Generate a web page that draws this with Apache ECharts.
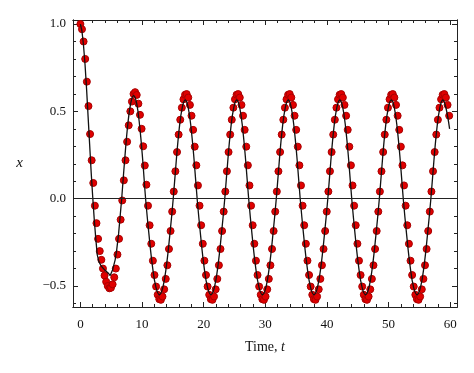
<!DOCTYPE html>
<html><head><meta charset="utf-8">
<script src="https://cdn.jsdelivr.net/npm/echarts@6/dist/echarts.min.js"></script>
<style>html,body{margin:0;padding:0;background:#fff}#c{width:474px;height:373px}</style>
</head><body><div id="c"></div>
<script>
// ---- data ----
const dotT = [0,0.26,0.52,0.78,1.05,1.31,1.57,1.83,2.09,2.35,2.61,2.87,3.14,3.40,3.66,3.92,4.18,4.44,4.70,4.96,5.23,5.49,5.75,6.01,6.27,6.53,6.79,7.05,7.32,7.58,7.84,8.10,8.36,8.62,8.88,9.14,9.41,9.67,9.93,10.19,10.45,10.71,10.97,11.23,11.50,11.76,12.02,12.28,12.54,12.80,13.06,13.32,13.59,13.85,14.11,14.37,14.63,14.89,15.15,15.41,15.68,15.94,16.20,16.46,16.72,16.98,17.24,17.50,17.77,18.03,18.29,18.55,18.81,19.07,19.33,19.59,19.86,20.12,20.38,20.64,20.90,21.16,21.42,21.68,21.95,22.21,22.47,22.73,22.99,23.25,23.51,23.77,24.04,24.30,24.56,24.82,25.08,25.34,25.60,25.86,26.13,26.39,26.65,26.91,27.17,27.43,27.69,27.95,28.22,28.48,28.74,29.00,29.26,29.52,29.78,30.04,30.31,30.57,30.83,31.09,31.35,31.61,31.87,32.13,32.40,32.66,32.92,33.18,33.44,33.70,33.96,34.22,34.49,34.75,35.01,35.27,35.53,35.79,36.05,36.31,36.58,36.84,37.10,37.36,37.62,37.88,38.14,38.40,38.67,38.93,39.19,39.45,39.71,39.97,40.23,40.49,40.76,41.02,41.28,41.54,41.80,42.06,42.32,42.58,42.85,43.11,43.37,43.63,43.89,44.15,44.41,44.67,44.94,45.20,45.46,45.72,45.98,46.24,46.50,46.76,47.03,47.29,47.55,47.81,48.07,48.33,48.59,48.85,49.12,49.38,49.64,49.90,50.16,50.42,50.68,50.94,51.21,51.47,51.73,51.99,52.25,52.51,52.77,53.03,53.30,53.56,53.82,54.08,54.34,54.60,54.86,55.12,55.39,55.65,55.91,56.17,56.43,56.69,56.95,57.21,57.48,57.74,58.00,58.26,58.52,58.78,59.04,59.30,59.57,59.83];
const dotX = [1.00,0.97,0.90,0.80,0.67,0.53,0.37,0.22,0.09,-0.04,-0.14,-0.23,-0.30,-0.35,-0.40,-0.44,-0.475,-0.50,-0.513,-0.51,-0.49,-0.45,-0.40,-0.32,-0.23,-0.12,-0.01,0.105,0.22,0.326,0.42,0.50,0.556,0.60,0.61,0.594,0.544,0.48,0.40,0.30,0.19,0.08,
-0.040,-0.152,-0.258,-0.355,-0.437,-0.503,-0.550,-0.575,-0.579,-0.560,-0.519,-0.459,-0.381,-0.288,-0.185,-0.074,
0.041,0.157,0.267,0.367,0.452,0.521,0.569,0.595,0.599,0.579,0.537,0.475,0.394,0.298,0.191,0.076,
-0.040,-0.152,-0.258,-0.355,-0.437,-0.503,-0.550,-0.575,-0.579,-0.560,-0.519,-0.459,-0.381,-0.288,-0.185,-0.074,
0.041,0.157,0.267,0.367,0.452,0.521,0.569,0.595,0.599,0.579,0.537,0.475,0.394,0.298,0.191,0.076,
-0.040,-0.152,-0.258,-0.355,-0.437,-0.503,-0.550,-0.575,-0.579,-0.560,-0.519,-0.459,-0.381,-0.288,-0.185,-0.074,
0.041,0.157,0.267,0.367,0.452,0.521,0.569,0.595,0.599,0.579,0.537,0.475,0.394,0.298,0.191,0.076,
-0.040,-0.152,-0.258,-0.355,-0.437,-0.503,-0.550,-0.575,-0.579,-0.560,-0.519,-0.459,-0.381,-0.288,-0.185,-0.074,
0.041,0.157,0.267,0.367,0.452,0.521,0.569,0.595,0.599,0.579,0.537,0.475,0.394,0.298,0.191,0.076,
-0.040,-0.152,-0.258,-0.355,-0.437,-0.503,-0.550,-0.575,-0.579,-0.560,-0.519,-0.459,-0.381,-0.288,-0.185,-0.074,
0.041,0.157,0.267,0.367,0.452,0.521,0.569,0.595,0.599,0.579,0.537,0.475,0.394,0.298,0.191,0.076,
-0.040,-0.152,-0.258,-0.355,-0.437,-0.503,-0.550,-0.575,-0.579,-0.560,-0.519,-0.459,-0.381,-0.288,-0.185,-0.074,
0.041,0.157,0.267,0.367,0.452,0.521,0.569,0.595,0.599,0.579,0.537,0.475];

// fitted curve, transient part (drawn straight)
const curveAT = [0,0.25,0.5,0.75,1.0,1.25,1.5,1.75,2.0,2.25,2.5,2.73,3.0,3.37,4.0,4.5,4.83,5.2,5.64,5.9,6.2,6.45,6.7];
const curveAX = [1.0,0.96,0.88,0.77,0.63,0.47,0.31,0.15,0.01,-0.12,-0.23,-0.32,-0.36,-0.385,-0.41,-0.425,-0.44,-0.41,-0.35,-0.29,-0.20,-0.10,0.0];
// fitted curve, steady oscillation (smoothed)
const curveBT = [6.70,7.19,7.67,8.16,8.64,9.13,9.61,10.10,
10.58,11.14,11.70,12.26,12.82,13.38,13.94,14.50,
15.06,15.55,16.03,16.52,17.00,17.49,17.97,18.46,
18.94,19.50,20.06,20.62,21.18,21.74,22.30,22.86,
23.42,23.91,24.39,24.88,25.36,25.85,26.33,26.82,
27.30,27.86,28.42,28.98,29.54,30.10,30.66,31.22,
31.78,32.27,32.75,33.24,33.72,34.21,34.69,35.18,
35.66,36.22,36.78,37.34,37.90,38.46,39.02,39.58,
40.14,40.63,41.11,41.60,42.08,42.57,43.05,43.54,
44.02,44.58,45.14,45.70,46.26,46.82,47.38,47.94,
48.50,48.99,49.47,49.96,50.44,50.93,51.41,51.90,
52.38,52.94,53.50,54.06,54.62,55.18,55.74,56.30,
56.86,57.35,57.83,58.32,58.80,59.29,59.90];
const curveBX = [0,0.226,0.418,0.545,0.59,0.545,0.418,0.226,
0,-0.210,-0.389,-0.508,-0.55,-0.508,-0.389,-0.210,
0,0.216,0.400,0.522,0.565,0.522,0.400,0.216,
0,-0.210,-0.389,-0.508,-0.55,-0.508,-0.389,-0.210,
0,0.216,0.400,0.522,0.565,0.522,0.400,0.216,
0,-0.210,-0.389,-0.508,-0.55,-0.508,-0.389,-0.210,
0,0.216,0.400,0.522,0.565,0.522,0.400,0.216,
0,-0.210,-0.389,-0.508,-0.55,-0.508,-0.389,-0.210,
0,0.216,0.400,0.522,0.565,0.522,0.400,0.216,
0,-0.210,-0.389,-0.508,-0.55,-0.508,-0.389,-0.210,
0,0.216,0.400,0.522,0.565,0.522,0.400,0.216,
0,-0.210,-0.389,-0.508,-0.55,-0.508,-0.389,-0.210,
0,0.216,0.400,0.522,0.565,0.522,0.40];

const xMajorTicks = [0,10,20,30,40,50,60];
const xMinorTicks = [2,4,6,8,12,14,16,18,22,24,26,28,32,34,36,38,42,44,46,48,52,54,56,58];
const yMajorTicks = [-0.5,0,0.5,1.0];
const yMinorTicks = [-0.6,-0.4,-0.3,-0.2,-0.1,0.1,0.2,0.3,0.4,0.6,0.7,0.8,0.9];

const xTitle = 'Time, {i|t}';
const yTitle = 'x';

// ---- chart ----
const zip = (a,b) => a.map((v,i) => [v, b[i]]);
const FONT = 'Liberation Serif';
const AX = '#222';
const XMIN = -1.2, XMAX = 61.1, YMIN = -0.62, YMAX = 1.023;

function xAx(pos, ticks, len, labels, extra) {
  return Object.assign({
    type: 'value', position: pos, min: XMIN, max: XMAX,
    axisLine: {show: true, onZero: false, lineStyle: {color: AX, width: 1}},
    axisTick: {show: true, inside: true, length: len, customValues: ticks, lineStyle: {color: AX, width: 1}},
    axisLabel: labels ? {show: true, customValues: ticks, fontFamily: FONT, fontSize: 13, color: '#111', margin: 11} : {show: false},
    splitLine: {show: false}
  }, extra || {});
}
function yAx(pos, ticks, len, labels, extra) {
  return Object.assign({
    type: 'value', position: pos, min: YMIN, max: YMAX,
    axisLine: {show: true, onZero: false, lineStyle: {color: AX, width: 1}},
    axisTick: {show: true, inside: true, length: len, customValues: ticks, lineStyle: {color: AX, width: 1}},
    axisLabel: labels ? {show: true, customValues: ticks, fontFamily: FONT, fontSize: 13, color: '#111', margin: 7,
      formatter: v => (v < 0 ? '\u2212' : '') + Math.abs(v).toFixed(1)} : {show: false},
    splitLine: {show: false}
  }, extra || {});
}

const chart = echarts.init(document.getElementById('c'), null, {renderer: 'canvas'});
chart.setOption({
  animation: false,
  backgroundColor: '#fff',
  grid: {left: 73, right: 17, top: 20, bottom: 66, containLabel: false},
  xAxis: [
    xAx('bottom', xMajorTicks, 5, true, {
      name: xTitle, nameLocation: 'middle', nameGap: 33,
      nameTextStyle: {fontFamily: FONT, fontSize: 14, color: '#111', rich: {i: {fontFamily: FONT, fontSize: 14, fontStyle: 'italic', color: '#111'}}}
    }),
    xAx('bottom', xMinorTicks, 3, false),
    xAx('top', xMajorTicks, 5, false),
    xAx('top', xMinorTicks, 3, false)
  ],
  yAxis: [
    yAx('left', yMajorTicks, 5, true, {
      name: yTitle, nameLocation: 'middle', nameGap: 50, nameRotate: 0,
      nameTextStyle: {fontFamily: FONT, fontSize: 15, fontStyle: 'italic', color: '#111'}
    }),
    yAx('left', yMinorTicks, 3, false),
    yAx('right', yMajorTicks, 5, false),
    yAx('right', yMinorTicks, 3, false)
  ],
  series: [
    {
      type: 'scatter', xAxisIndex: 0, yAxisIndex: 0, data: zip(dotT, dotX),
      symbol: 'circle', symbolSize: 7, z: 2,
      itemStyle: {color: '#e00000', borderColor: '#a80000', borderWidth: 1, opacity: 1}
    },
    {
      type: 'line', xAxisIndex: 0, yAxisIndex: 0, data: zip(curveAT, curveAX),
      showSymbol: false, smooth: false, z: 3,
      lineStyle: {color: '#111', width: 1.3},
      markLine: {silent: true, symbol: 'none', label: {show: false},
        lineStyle: {color: '#222', width: 1, type: 'solid'}, data: [{yAxis: 0}]}
    },
    {
      type: 'line', xAxisIndex: 0, yAxisIndex: 0, data: zip(curveBT, curveBX),
      showSymbol: false, smooth: 0.4, z: 3,
      lineStyle: {color: '#111', width: 1.3}
    }
  ]
});
</script></body></html>
